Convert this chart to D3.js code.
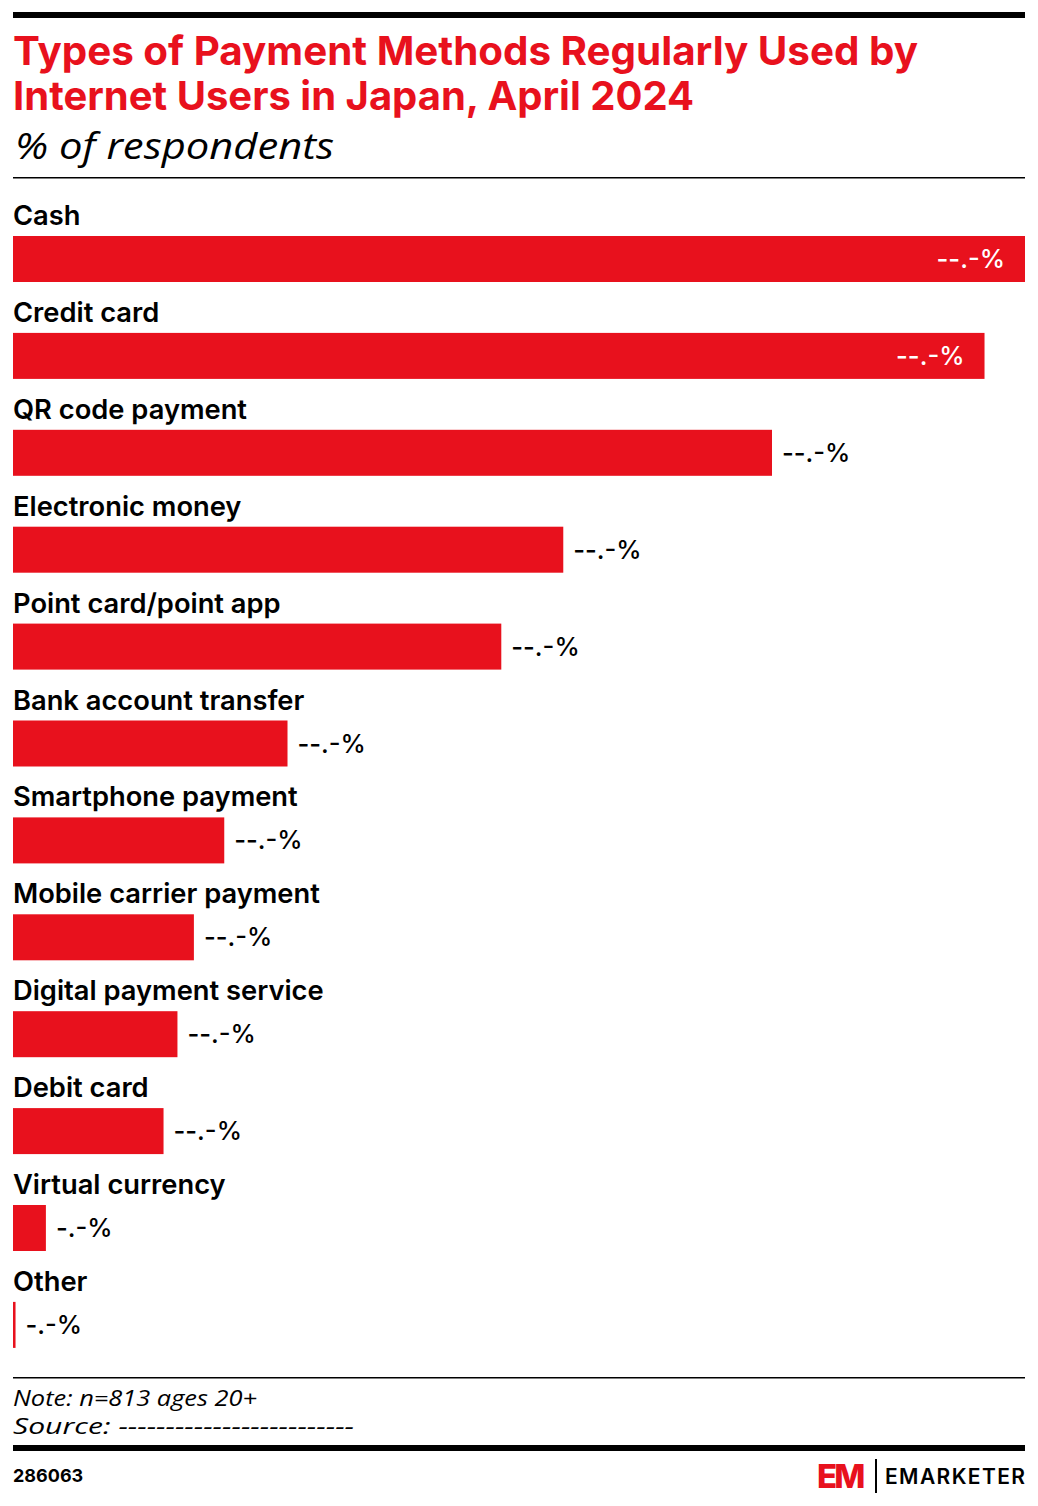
<!DOCTYPE html>
<html><head><meta charset="utf-8">
<script src="https://cdn.jsdelivr.net/npm/d3@7"></script>
<style>
html,body{margin:0;padding:0;background:#fff;}
svg{display:block;}
</style></head>
<body>
<script>
const categories = ["Cash","Credit card","QR code payment","Electronic money","Point card/point app","Bank account transfer","Smartphone payment","Mobile carrier payment","Digital payment service","Debit card","Virtual currency","Other"];
const values = [80.0,76.8,60.0,43.5,38.6,21.7,16.7,14.3,13.0,11.9,2.6,0.2];
const valueLabels = ["--.-%","--.-%","--.-%","--.-%","--.-%","--.-%","--.-%","--.-%","--.-%","--.-%","-.-%","-.-%"];
const titleLines = ["Types of Payment Methods Regularly Used by","Internet Users in Japan, April 2024"];
const subtitle = "% of respondents";
const noteLines = ["Note: n=813 ages 20+","Source: -------------------------"];
const chartId = "286063";

const W = 1038, H = 1506;
const red = "#e8111d";
const font = "Inter, 'Noto Sans', sans-serif";
const italicFont = "'Open Sans', 'Noto Sans', sans-serif";
const svg = d3.select("body").append("svg").attr("width", W).attr("height", H);

const L = 13, R = 1025;
// top rule
svg.append("rect").attr("x", L).attr("y", 12).attr("width", R - L).attr("height", 6).attr("fill", "#000");
const titleWidths = [905, 681];
svg.selectAll(".title").data(titleLines).enter().append("text")
  .attr("x", L).attr("y", (d, i) => 65 + i * 45)
  .attr("font-family", font).attr("font-weight", 700).attr("font-size", 40)
  .attr("textLength", (d, i) => titleWidths[i]).attr("lengthAdjust", "spacingAndGlyphs")
  .attr("fill", red).text(d => d);
svg.append("text").attr("x", 15).attr("y", 159).attr("font-family", italicFont)
  .attr("font-style", "italic").attr("font-size", 36).attr("fill", "#000")
  .attr("textLength", 319).attr("lengthAdjust", "spacingAndGlyphs").text(subtitle);
svg.append("rect").attr("x", L).attr("y", 177).attr("width", R - L).attr("height", 1.5).attr("fill", "#000");

const x = d3.scaleLinear().domain([0, d3.max(values)]).range([L, R]);
const y = d3.scaleBand().domain(categories).range([189, 189 + 12 * 96.9]).paddingInner(0).paddingOuter(0);
const barH = 46, barOff = 47;

const g = svg.append("g");
const rows = g.selectAll(".row").data(categories).enter().append("g");
rows.append("text").attr("x", L).attr("y", d => y(d) + 36)
  .attr("font-family", font).attr("font-weight", 600).attr("font-size", 27.3)
  .attr("fill", "#000").text(d => d);
rows.append("rect").attr("x", L).attr("y", d => y(d) + barOff)
  .attr("width", (d, i) => Math.max(1.5, x(values[i]) - L)).attr("height", barH).attr("fill", red);
rows.append("text")
  .attr("x", (d, i) => i < 2 ? x(values[i]) - 20 : x(values[i]) + 10)
  .attr("y", d => y(d) + barOff + barH / 2 + 9)
  .attr("text-anchor", (d, i) => i < 2 ? "end" : "start")
  .attr("font-family", font).attr("font-weight", 500).attr("font-size", 25.5)
  .attr("fill", (d, i) => i < 2 ? "#fff" : "#000").text((d, i) => valueLabels[i]);

// bottom
svg.append("rect").attr("x", L).attr("y", 1377).attr("width", R - L).attr("height", 1.5).attr("fill", "#000");
const noteWidths = [244, 341];
svg.selectAll(".note").data(noteLines).enter().append("text")
  .attr("x", L).attr("y", (d, i) => 1406 + i * 28)
  .attr("font-family", italicFont).attr("font-style", "italic").attr("font-size", 22)
  .attr("textLength", (d, i) => noteWidths[i]).attr("lengthAdjust", "spacingAndGlyphs")
  .attr("fill", "#000").text(d => d);
svg.append("rect").attr("x", L).attr("y", 1445).attr("width", R - L).attr("height", 6).attr("fill", "#000");
svg.append("text").attr("x", L).attr("y", 1482).attr("font-family", font).attr("font-weight", 700)
  .attr("font-size", 18).attr("fill", "#000").text(chartId);
// logo
svg.append("text").attr("x", 817).attr("y", 1488).attr("font-family", font).attr("font-weight", 800)
  .attr("font-size", 33).attr("letter-spacing", -3).attr("fill", red).text("EM");
svg.append("rect").attr("x", 875).attr("y", 1459).attr("width", 2).attr("height", 34).attr("fill", "#000");
svg.append("text").attr("x", 885).attr("y", 1484).attr("font-family", font).attr("font-weight", 600)
  .attr("font-size", 21).attr("textLength", 140).attr("lengthAdjust", "spacing").attr("fill", "#000").text("EMARKETER");
</script>
</body></html>
